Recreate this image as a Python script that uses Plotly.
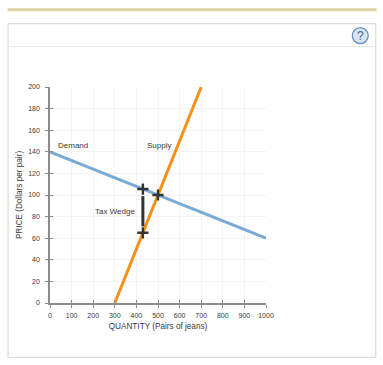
import plotly.graph_objects as go

# Data
demand_q = [0, 1000]
demand_p = [140, 60]
supply_q = [300, 700]
supply_p = [0, 200]
wedge_q = [430, 430]
wedge_p = [99, 71]
handle_q = [430, 500, 430]
handle_p = [105.5, 100, 65]
x_ticks = list(range(0, 1001, 100))
y_ticks = list(range(0, 201, 20))
labels = [("Demand", 26, 146), ("Supply", 440, 146), ("Tax Wedge", 197, 85)]

W, H = 383, 365
L, R, T, B = 49.5, 266.0, 87.0, 303.5
FONT = "Liberation Sans, Arial, sans-serif"
TXT = "#3a3a3a"
AX = "#8c8c8c"

def px(x):
    return (x - L) / (R - L)

def py(y):
    return (B - y) / (B - T)

fig = go.Figure()
fig.add_trace(go.Scatter(x=demand_q, y=demand_p, mode="lines",
                         line=dict(color="#7aaad6", width=3), hoverinfo="skip"))
fig.add_trace(go.Scatter(x=supply_q, y=supply_p, mode="lines",
                         line=dict(color="#f7901a", width=3), hoverinfo="skip"))
fig.add_trace(go.Scatter(x=wedge_q, y=wedge_p, mode="lines",
                         line=dict(color="#333333", width=3), hoverinfo="skip"))
fig.add_trace(go.Scatter(x=handle_q, y=handle_p, mode="markers",
                         marker=dict(symbol="cross-thin", size=8,
                                     line=dict(color="#333333", width=2.4)),
                         hoverinfo="skip"))
# invisible trace that keeps the overlay axes (inner half of the ticks) alive
fig.add_trace(go.Scatter(x=demand_q, y=demand_p, xaxis="x2", yaxis="y2", mode="lines",
                         line=dict(color="rgba(0,0,0,0)", width=1), hoverinfo="skip"))

common = dict(showgrid=True, gridcolor="#f3f3f3", gridwidth=1, zeroline=False,
              showline=True, linecolor=AX, linewidth=1.5,
              ticks="outside", ticklen=3, tickwidth=1, tickcolor=AX,
              tickfont=dict(family=FONT, size=7, color=TXT))

fig.update_layout(
    width=W, height=H, autosize=False, showlegend=False,
    paper_bgcolor="white", plot_bgcolor="rgba(0,0,0,0)",
    margin=dict(l=L, r=W - R, t=T, b=H - B, autoexpand=False),
    xaxis=dict(range=[0, 1000], tickmode="array", tickvals=x_ticks, ticklabelstandoff=2,
               title=dict(text="QUANTITY (Pairs of jeans)", standoff=5,
                          font=dict(family=FONT, size=8.2, color=TXT)), **common),
    yaxis=dict(range=[0, 200], tickmode="array", tickvals=y_ticks, ticklabelstandoff=4,
               title=dict(text="PRICE (Dollars per pair)", standoff=4,
                          font=dict(family=FONT, size=8.2, color=TXT)), **common),
    xaxis2=dict(overlaying="x", range=[0, 1000], tickmode="array", tickvals=x_ticks,
                showticklabels=False, showgrid=False, zeroline=False, showline=False,
                ticks="inside", ticklen=3, tickwidth=1, tickcolor=AX, anchor="y2", side="bottom"),
    yaxis2=dict(overlaying="y", range=[0, 200], tickmode="array", tickvals=y_ticks,
                showticklabels=False, showgrid=False, zeroline=False, showline=False,
                ticks="inside", ticklen=3, tickwidth=1, tickcolor=AX, anchor="x2", side="left"),
    shapes=[
        dict(type="line", xref="paper", yref="paper", layer="below",
             x0=px(7), x1=px(377), y0=py(9.5), y1=py(9.5),
             line=dict(color="#dfd3a3", width=3)),
        dict(type="rect", xref="paper", yref="paper", layer="below",
             x0=px(7.5), x1=px(376), y0=py(23.5), y1=py(358),
             line=dict(color="#dcdcdc", width=1.2), fillcolor="white"),
        dict(type="line", xref="paper", yref="paper", layer="below",
             x0=px(8), x1=px(375), y0=py(46.5), y1=py(46.5),
             line=dict(color="#e8e8e8", width=1)),
        dict(type="circle", xref="paper", yref="paper", layer="below",
             x0=px(352.5), x1=px(368.5), y0=py(27.5), y1=py(43.5),
             line=dict(color="#5f8fbd", width=1.2), fillcolor="#dbe5f0"),
    ],
    annotations=[
        dict(text=t, x=x, y=y, xref="x", yref="y", xanchor="left", yanchor="middle",
             showarrow=False, font=dict(family=FONT, size=8, color=TXT))
        for t, x, y in labels
    ] + [
        dict(text="?", x=px(360.5), y=py(35.5), xref="paper", yref="paper",
             xanchor="center", yanchor="middle", showarrow=False,
             font=dict(family=FONT, size=12, color="#2f6aa8")),
    ],
)
fig.write_html("out.html", config=dict(displayModeBar=False),
               post_script="document.body.style.margin='0';document.documentElement.style.overflow='hidden';")
